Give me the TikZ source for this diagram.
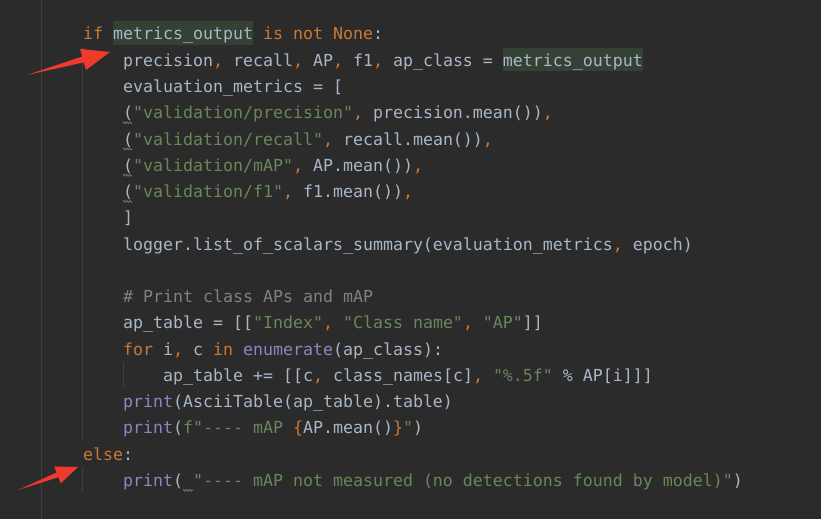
\documentclass[tikz,border=0pt]{standalone}
\usepackage{fontspec}
\setmonofont{DejaVu Sans Mono}
\usetikzlibrary{calc,decorations.pathmorphing}
\definecolor{bg}{HTML}{2B2B2B}
\definecolor{txt}{HTML}{A9B7C6}
\definecolor{kw}{HTML}{CC7832}
\definecolor{str}{HTML}{6A8759}
\definecolor{fn}{HTML}{8888C6}
\definecolor{cmt}{HTML}{808080}
\definecolor{hl}{HTML}{344134}
\definecolor{guide}{HTML}{3C3F41}
\definecolor{arr}{HTML}{F03A2E}
\newcommand{\K}[1]{\textcolor{kw}{#1}}
\newcommand{\Sg}[1]{\textcolor{str}{#1}}
\newcommand{\Fn}[1]{\textcolor{fn}{#1}}
\newcommand{\Cm}[1]{\textcolor{cmt}{#1}}
\begin{document}
\begin{tikzpicture}[x=1pt,y=-1pt,
  codeline/.style={anchor=base west,inner sep=0pt,text=txt,font=\ttfamily\fontsize{16.6}{18}\selectfont},
  guideline/.style={draw=guide,line width=0.8pt},
  squig/.style={draw=cmt,line width=0.6pt,decorate,decoration={zigzag,amplitude=1pt,segment length=3pt}}]
\fill[bg] (0,0) rectangle (821,519);
\useasboundingbox (0,0) rectangle (821,519);
% indent guides
\draw[guideline] (41,0) -- (41,519);
\draw[guideline] (82,47) -- (82,441);
\draw[guideline] (82,467) -- (82,492);
\draw[guideline] (123,362) -- (123,388);
% highlights
\fill[hl] (113,21) rectangle (253,45);
\fill[hl] (503,48) rectangle (643,71);
\def\yy#1{\fpeval{40+26.25*(#1-1)}}
\node[codeline] (l1) at (83,\yy{1}) {\K{if} metrics\_output \K{is not None}:};
\node[codeline] (l2) at (123,\yy{2}) {precision\K{,} recall\K{,} AP\K{,} f1\K{,} ap\_class = metrics\_output};
\node[codeline] (l3) at (123,\yy{3}) {evaluation\_metrics = [};
\node[codeline] (l4) at (123,\yy{4}) {(\Sg{"validation/precision"}\K{,} precision.mean())\K{,}};
\node[codeline] (l5) at (123,\yy{5}) {(\Sg{"validation/recall"}\K{,} recall.mean())\K{,}};
\node[codeline] (l6) at (123,\yy{6}) {(\Sg{"validation/mAP"}\K{,} AP.mean())\K{,}};
\node[codeline] (l7) at (123,\yy{7}) {(\Sg{"validation/f1"}\K{,} f1.mean())\K{,}};
\node[codeline] (l8) at (123,\yy{8}) {]};
\node[codeline] (l9) at (123,\yy{9}) {logger.list\_of\_scalars\_summary(evaluation\_metrics\K{,} epoch)};
\node[codeline] (l11) at (123,\yy{11}) {\Cm{\# Print class APs and mAP}};
\node[codeline] (l12) at (123,\yy{12}) {ap\_table = [[\Sg{"Index"}\K{,} \Sg{"Class name"}\K{,} \Sg{"AP"}]]};
\node[codeline] (l13) at (123,\yy{13}) {\K{for} i\K{,} c \K{in} \Fn{enumerate}(ap\_class):};
\node[codeline] (l14) at (163,\yy{14}) {ap\_table += [[c\K{,} class\_names[c]\K{,} \Sg{"\%.5f"} \% AP[i]]]};
\node[codeline] (l15) at (123,\yy{15}) {\Fn{print}(AsciiTable(ap\_table).table)};
\node[codeline] (l16) at (123,\yy{16}) {\Fn{print}(\Sg{f"---- mAP }\K{\{}AP.mean()\K{\}}\Sg{"})};
\node[codeline] (l17) at (83,\yy{17}) {\K{else}:};
\node[codeline] (l18) at (123,\yy{18}) {\Fn{print}( \Sg{"---- mAP not measured (no detections found by model)"})};
% weak-warning squiggles
\foreach \n in {4,5,6,7}{\draw[squig] (123,{\yy{\n}+4}) -- (132,{\yy{\n}+4});}
\draw[squig] (183,{\yy{18}+4}) -- (193,{\yy{18}+4});
% red arrows
\coordinate (a1t) at (27,75); \coordinate (a1h) at (110,52);
\coordinate (a1b) at ($(a1h)!28pt!(a1t)$);
\fill[arr] (a1t) -- ($(a1b)!3pt!90:(a1h)$) -- ($(a1b)!11pt!90:(a1h)$) -- (a1h)
  -- ($(a1b)!11pt!-90:(a1h)$) -- ($(a1b)!3pt!-90:(a1h)$) -- cycle;
\coordinate (a2t) at (18,490); \coordinate (a2h) at (78,467);
\coordinate (a2b) at ($(a2h)!22pt!(a2t)$);
\fill[arr] (a2t) -- ($(a2b)!2.5pt!90:(a2h)$) -- ($(a2b)!9pt!90:(a2h)$) -- (a2h)
  -- ($(a2b)!9pt!-90:(a2h)$) -- ($(a2b)!2.5pt!-90:(a2h)$) -- cycle;
\end{tikzpicture}
\end{document}
